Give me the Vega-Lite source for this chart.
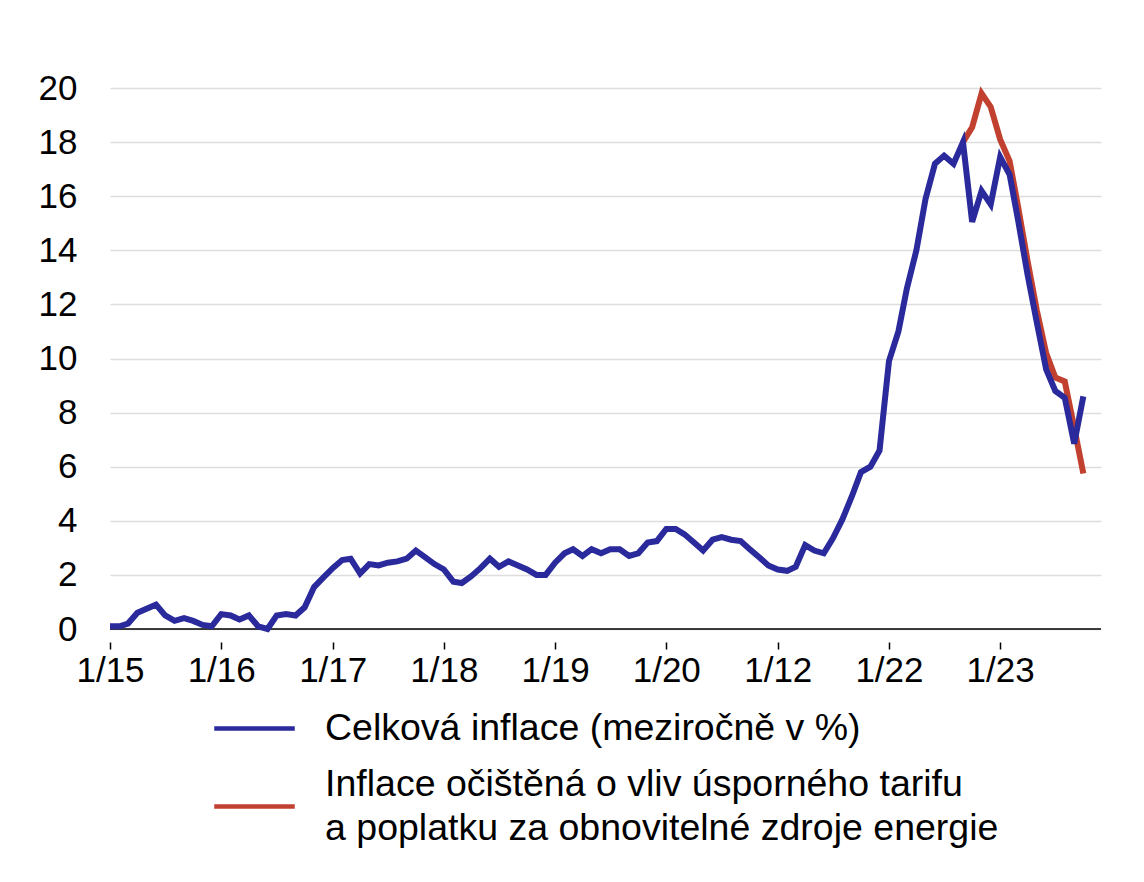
{
  "$schema": "https://vega.github.io/schema/vega-lite/v6.json",
  "width": 991,
  "height": 541,
  "autosize": {"type": "none"},
  "padding": {"left": 110, "top": 88, "right": 43, "bottom": 253},
  "background": "white",
  "config": {
    "view": {"stroke": null},
    "font": "Liberation Sans",
    "style": {"guide-label": {"lineHeight": 44}}
  },
  "datasets": {
    "inflace": [
      {"date": "2015-01-01", "series": "Celková inflace (meziročně v %)", "value": 0.1},
      {"date": "2015-02-01", "series": "Celková inflace (meziročně v %)", "value": 0.1},
      {"date": "2015-03-01", "series": "Celková inflace (meziročně v %)", "value": 0.2},
      {"date": "2015-04-01", "series": "Celková inflace (meziročně v %)", "value": 0.6},
      {"date": "2015-05-01", "series": "Celková inflace (meziročně v %)", "value": 0.75},
      {"date": "2015-06-01", "series": "Celková inflace (meziročně v %)", "value": 0.9},
      {"date": "2015-07-01", "series": "Celková inflace (meziročně v %)", "value": 0.5},
      {"date": "2015-08-01", "series": "Celková inflace (meziročně v %)", "value": 0.3},
      {"date": "2015-09-01", "series": "Celková inflace (meziročně v %)", "value": 0.4},
      {"date": "2015-10-01", "series": "Celková inflace (meziročně v %)", "value": 0.3},
      {"date": "2015-11-01", "series": "Celková inflace (meziročně v %)", "value": 0.15},
      {"date": "2015-12-01", "series": "Celková inflace (meziročně v %)", "value": 0.1},
      {"date": "2016-01-01", "series": "Celková inflace (meziročně v %)", "value": 0.55},
      {"date": "2016-02-01", "series": "Celková inflace (meziročně v %)", "value": 0.5},
      {"date": "2016-03-01", "series": "Celková inflace (meziročně v %)", "value": 0.35},
      {"date": "2016-04-01", "series": "Celková inflace (meziročně v %)", "value": 0.5},
      {"date": "2016-05-01", "series": "Celková inflace (meziročně v %)", "value": 0.1},
      {"date": "2016-06-01", "series": "Celková inflace (meziročně v %)", "value": 0.0},
      {"date": "2016-07-01", "series": "Celková inflace (meziročně v %)", "value": 0.5},
      {"date": "2016-08-01", "series": "Celková inflace (meziročně v %)", "value": 0.55},
      {"date": "2016-09-01", "series": "Celková inflace (meziročně v %)", "value": 0.5},
      {"date": "2016-10-01", "series": "Celková inflace (meziročně v %)", "value": 0.8},
      {"date": "2016-11-01", "series": "Celková inflace (meziročně v %)", "value": 1.55},
      {"date": "2016-12-01", "series": "Celková inflace (meziročně v %)", "value": 1.9},
      {"date": "2017-01-01", "series": "Celková inflace (meziročně v %)", "value": 2.25},
      {"date": "2017-02-01", "series": "Celková inflace (meziročně v %)", "value": 2.55},
      {"date": "2017-03-01", "series": "Celková inflace (meziročně v %)", "value": 2.6},
      {"date": "2017-04-01", "series": "Celková inflace (meziročně v %)", "value": 2.05},
      {"date": "2017-05-01", "series": "Celková inflace (meziročně v %)", "value": 2.4},
      {"date": "2017-06-01", "series": "Celková inflace (meziročně v %)", "value": 2.35},
      {"date": "2017-07-01", "series": "Celková inflace (meziročně v %)", "value": 2.45},
      {"date": "2017-08-01", "series": "Celková inflace (meziročně v %)", "value": 2.5},
      {"date": "2017-09-01", "series": "Celková inflace (meziročně v %)", "value": 2.6},
      {"date": "2017-10-01", "series": "Celková inflace (meziročně v %)", "value": 2.9},
      {"date": "2017-11-01", "series": "Celková inflace (meziročně v %)", "value": 2.65},
      {"date": "2017-12-01", "series": "Celková inflace (meziročně v %)", "value": 2.4},
      {"date": "2018-01-01", "series": "Celková inflace (meziročně v %)", "value": 2.2},
      {"date": "2018-02-01", "series": "Celková inflace (meziročně v %)", "value": 1.75},
      {"date": "2018-03-01", "series": "Celková inflace (meziročně v %)", "value": 1.7},
      {"date": "2018-04-01", "series": "Celková inflace (meziročně v %)", "value": 1.95},
      {"date": "2018-05-01", "series": "Celková inflace (meziročně v %)", "value": 2.25},
      {"date": "2018-06-01", "series": "Celková inflace (meziročně v %)", "value": 2.6},
      {"date": "2018-07-01", "series": "Celková inflace (meziročně v %)", "value": 2.3},
      {"date": "2018-08-01", "series": "Celková inflace (meziročně v %)", "value": 2.5},
      {"date": "2018-09-01", "series": "Celková inflace (meziročně v %)", "value": 2.35},
      {"date": "2018-10-01", "series": "Celková inflace (meziročně v %)", "value": 2.2},
      {"date": "2018-11-01", "series": "Celková inflace (meziročně v %)", "value": 2.0},
      {"date": "2018-12-01", "series": "Celková inflace (meziročně v %)", "value": 2.0},
      {"date": "2019-01-01", "series": "Celková inflace (meziročně v %)", "value": 2.45},
      {"date": "2019-02-01", "series": "Celková inflace (meziročně v %)", "value": 2.8},
      {"date": "2019-03-01", "series": "Celková inflace (meziročně v %)", "value": 2.95},
      {"date": "2019-04-01", "series": "Celková inflace (meziročně v %)", "value": 2.7},
      {"date": "2019-05-01", "series": "Celková inflace (meziročně v %)", "value": 2.95},
      {"date": "2019-06-01", "series": "Celková inflace (meziročně v %)", "value": 2.8},
      {"date": "2019-07-01", "series": "Celková inflace (meziročně v %)", "value": 2.95},
      {"date": "2019-08-01", "series": "Celková inflace (meziročně v %)", "value": 2.95},
      {"date": "2019-09-01", "series": "Celková inflace (meziročně v %)", "value": 2.7},
      {"date": "2019-10-01", "series": "Celková inflace (meziročně v %)", "value": 2.8},
      {"date": "2019-11-01", "series": "Celková inflace (meziročně v %)", "value": 3.2},
      {"date": "2019-12-01", "series": "Celková inflace (meziročně v %)", "value": 3.25},
      {"date": "2020-01-01", "series": "Celková inflace (meziročně v %)", "value": 3.7},
      {"date": "2020-02-01", "series": "Celková inflace (meziročně v %)", "value": 3.7},
      {"date": "2020-03-01", "series": "Celková inflace (meziročně v %)", "value": 3.5},
      {"date": "2020-04-01", "series": "Celková inflace (meziročně v %)", "value": 3.2},
      {"date": "2020-05-01", "series": "Celková inflace (meziročně v %)", "value": 2.9},
      {"date": "2020-06-01", "series": "Celková inflace (meziročně v %)", "value": 3.3},
      {"date": "2020-07-01", "series": "Celková inflace (meziročně v %)", "value": 3.4},
      {"date": "2020-08-01", "series": "Celková inflace (meziročně v %)", "value": 3.3},
      {"date": "2020-09-01", "series": "Celková inflace (meziročně v %)", "value": 3.25},
      {"date": "2020-10-01", "series": "Celková inflace (meziročně v %)", "value": 2.95},
      {"date": "2020-11-01", "series": "Celková inflace (meziročně v %)", "value": 2.65},
      {"date": "2020-12-01", "series": "Celková inflace (meziročně v %)", "value": 2.35},
      {"date": "2021-01-01", "series": "Celková inflace (meziročně v %)", "value": 2.2},
      {"date": "2021-02-01", "series": "Celková inflace (meziročně v %)", "value": 2.15},
      {"date": "2021-03-01", "series": "Celková inflace (meziročně v %)", "value": 2.3},
      {"date": "2021-04-01", "series": "Celková inflace (meziročně v %)", "value": 3.1},
      {"date": "2021-05-01", "series": "Celková inflace (meziročně v %)", "value": 2.9},
      {"date": "2021-06-01", "series": "Celková inflace (meziročně v %)", "value": 2.8},
      {"date": "2021-07-01", "series": "Celková inflace (meziročně v %)", "value": 3.35},
      {"date": "2021-08-01", "series": "Celková inflace (meziročně v %)", "value": 4.05},
      {"date": "2021-09-01", "series": "Celková inflace (meziročně v %)", "value": 4.9},
      {"date": "2021-10-01", "series": "Celková inflace (meziročně v %)", "value": 5.8},
      {"date": "2021-11-01", "series": "Celková inflace (meziročně v %)", "value": 6.0},
      {"date": "2021-12-01", "series": "Celková inflace (meziročně v %)", "value": 6.6},
      {"date": "2022-01-01", "series": "Celková inflace (meziročně v %)", "value": 9.9},
      {"date": "2022-02-01", "series": "Celková inflace (meziročně v %)", "value": 11.0},
      {"date": "2022-03-01", "series": "Celková inflace (meziročně v %)", "value": 12.6},
      {"date": "2022-04-01", "series": "Celková inflace (meziročně v %)", "value": 14.0},
      {"date": "2022-05-01", "series": "Celková inflace (meziročně v %)", "value": 15.9},
      {"date": "2022-06-01", "series": "Celková inflace (meziročně v %)", "value": 17.2},
      {"date": "2022-07-01", "series": "Celková inflace (meziročně v %)", "value": 17.5},
      {"date": "2022-08-01", "series": "Celková inflace (meziročně v %)", "value": 17.2},
      {"date": "2022-09-01", "series": "Celková inflace (meziročně v %)", "value": 18.0},
      {"date": "2022-10-01", "series": "Celková inflace (meziročně v %)", "value": 15.05},
      {"date": "2022-11-01", "series": "Celková inflace (meziročně v %)", "value": 16.2},
      {"date": "2022-12-01", "series": "Celková inflace (meziročně v %)", "value": 15.7},
      {"date": "2023-01-01", "series": "Celková inflace (meziročně v %)", "value": 17.45},
      {"date": "2023-02-01", "series": "Celková inflace (meziročně v %)", "value": 16.8},
      {"date": "2023-03-01", "series": "Celková inflace (meziročně v %)", "value": 15.1},
      {"date": "2023-04-01", "series": "Celková inflace (meziročně v %)", "value": 13.1},
      {"date": "2023-05-01", "series": "Celková inflace (meziročně v %)", "value": 11.35},
      {"date": "2023-06-01", "series": "Celková inflace (meziročně v %)", "value": 9.6},
      {"date": "2023-07-01", "series": "Celková inflace (meziročně v %)", "value": 8.8},
      {"date": "2023-08-01", "series": "Celková inflace (meziročně v %)", "value": 8.55},
      {"date": "2023-09-01", "series": "Celková inflace (meziročně v %)", "value": 6.85},
      {"date": "2023-10-01", "series": "Celková inflace (meziročně v %)", "value": 8.6},
      {"date": "2022-09-01", "series": "Inflace očištěná o vliv úsporného tarifu a poplatku za obnovitelné zdroje energie", "value": 18.0},
      {"date": "2022-10-01", "series": "Inflace očištěná o vliv úsporného tarifu a poplatku za obnovitelné zdroje energie", "value": 18.55},
      {"date": "2022-11-01", "series": "Inflace očištěná o vliv úsporného tarifu a poplatku za obnovitelné zdroje energie", "value": 19.8},
      {"date": "2022-12-01", "series": "Inflace očištěná o vliv úsporného tarifu a poplatku za obnovitelné zdroje energie", "value": 19.3},
      {"date": "2023-01-01", "series": "Inflace očištěná o vliv úsporného tarifu a poplatku za obnovitelné zdroje energie", "value": 18.1},
      {"date": "2023-02-01", "series": "Inflace očištěná o vliv úsporného tarifu a poplatku za obnovitelné zdroje energie", "value": 17.3},
      {"date": "2023-03-01", "series": "Inflace očištěná o vliv úsporného tarifu a poplatku za obnovitelné zdroje energie", "value": 15.6},
      {"date": "2023-04-01", "series": "Inflace očištěná o vliv úsporného tarifu a poplatku za obnovitelné zdroje energie", "value": 13.6},
      {"date": "2023-05-01", "series": "Inflace očištěná o vliv úsporného tarifu a poplatku za obnovitelné zdroje energie", "value": 11.8},
      {"date": "2023-06-01", "series": "Inflace očištěná o vliv úsporného tarifu a poplatku za obnovitelné zdroje energie", "value": 10.2},
      {"date": "2023-07-01", "series": "Inflace očištěná o vliv úsporného tarifu a poplatku za obnovitelné zdroje energie", "value": 9.3},
      {"date": "2023-08-01", "series": "Inflace očištěná o vliv úsporného tarifu a poplatku za obnovitelné zdroje energie", "value": 9.15},
      {"date": "2023-09-01", "series": "Inflace očištěná o vliv úsporného tarifu a poplatku za obnovitelné zdroje energie", "value": 7.45},
      {"date": "2023-10-01", "series": "Inflace očištěná o vliv úsporného tarifu a poplatku za obnovitelné zdroje energie", "value": 5.75}
    ]
  },
  "layer": [
    {
      "data": {"values": [{}]},
      "mark": {"type": "rule", "color": "black", "strokeWidth": 1.5},
      "encoding": {"y": {"datum": 0, "type": "quantitative"}}
    },
    {
      "data": {"name": "inflace"},
      "transform": [{"filter": "indexof(datum.series, 'Inflace') == 0"}],
      "mark": {"type": "line", "strokeWidth": 6, "strokeJoin": "miter"},
      "encoding": {
        "x": {"field": "date", "type": "temporal"},
        "y": {"field": "value", "type": "quantitative"},
        "color": {"field": "series", "type": "nominal"}
      }
    },
    {
      "data": {"name": "inflace"},
      "transform": [{"filter": "indexof(datum.series, 'Celková') == 0"}],
      "mark": {"type": "line", "strokeWidth": 6, "strokeJoin": "miter"},
      "encoding": {
        "x": {
          "field": "date",
          "type": "temporal",
          "scale": {
            "type": "utc",
            "domain": [
              {"year": 2015, "month": 1, "date": 1, "utc": true},
              {"year": 2023, "month": 11, "date": 28, "utc": true}
            ]
          },
          "axis": {
            "title": null,
            "values": [
              {"year": 2015, "month": 1, "date": 1, "utc": true},
              {"year": 2016, "month": 1, "date": 1, "utc": true},
              {"year": 2017, "month": 1, "date": 1, "utc": true},
              {"year": 2018, "month": 1, "date": 1, "utc": true},
              {"year": 2019, "month": 1, "date": 1, "utc": true},
              {"year": 2020, "month": 1, "date": 1, "utc": true},
              {"year": 2021, "month": 1, "date": 1, "utc": true},
              {"year": 2022, "month": 1, "date": 1, "utc": true},
              {"year": 2023, "month": 1, "date": 1, "utc": true}
            ],
            "labelExpr": "utcyear(datum.value) == 2021 ? '1/12' : '1/' + (utcyear(datum.value) - 2000)",
            "domain": false,
            "grid": false,
            "offset": 13,
            "tickSize": 7,
            "tickColor": "black",
            "tickWidth": 1.5,
            "labelFontSize": 35,
            "labelFont": "Liberation Sans",
            "labelColor": "black",
            "labelPadding": 4,
            "labelFlush": false,
            "labelOverlap": false
          }
        },
        "y": {
          "field": "value",
          "type": "quantitative",
          "scale": {"domain": [0, 20], "nice": false},
          "axis": {
            "title": null,
            "values": [0, 2, 4, 6, 8, 10, 12, 14, 16, 18, 20],
            "domain": false,
            "ticks": false,
            "tickSize": 0,
            "grid": true,
            "gridColor": "#dddddd",
            "gridWidth": 1.5,
            "labelFontSize": 35,
            "labelFont": "Liberation Sans",
            "labelColor": "black",
            "labelPadding": 33
          }
        },
        "color": {
          "field": "series",
          "type": "nominal",
          "scale": {
            "domain": [
              "Celková inflace (meziročně v %)",
              "Inflace očištěná o vliv úsporného tarifu a poplatku za obnovitelné zdroje energie"
            ],
            "range": ["#2a2a9c", "#c1402f"]
          },
          "legend": {
            "orient": "none",
            "legendX": 102,
            "legendY": 598,
            "direction": "vertical",
            "title": null,
            "padding": 0,
            "symbolType": "stroke",
            "symbolSize": 6480,
            "symbolStrokeWidth": 4.5,
            "labelFontSize": 37.5,
            "labelFont": "Liberation Sans",
            "labelColor": "black",
            "labelLimit": 2000,
            "labelOffset": 28,
            "rowPadding": 17,
            "labelExpr": "indexof(datum.label, 'Inflace') == 0 ? ['Inflace očištěná o vliv úsporného tarifu', 'a poplatku za obnovitelné zdroje energie'] : datum.label",
            "encoding": {
              "labels": {
                "dy": {"value": {"expr": "indexof(datum.label, 'Inflace') == 0 ? -22 : 0"}}
              }
            }
          }
        }
      }
    }
  ]
}
